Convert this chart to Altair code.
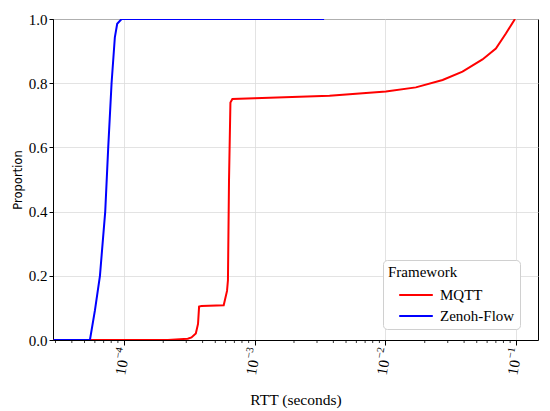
import altair as alt
import pandas as pd

# ---- data ----
FRAMEWORKS = ["MQTT", "Zenoh-Flow"]
COLORS = ["#ff0000", "#0000ff"]

MQTT_RTT = [2.9e-5, 2.17e-4, 3.08e-4, 3.29e-4, 3.55e-4, 3.69e-4, 3.76e-4, 3.92e-4,
            5.80e-4, 6.15e-4, 6.25e-4, 6.37e-4, 6.53e-4, 6.76e-4, 1.0e-3, 3.74e-3,
            1.01e-2, 1.71e-2, 2.74e-2, 3.89e-2, 5.53e-2, 7.0e-2, 8.35e-2, 9.8e-2]
MQTT_PROP = [0.0, 0.0, 0.004, 0.008, 0.02, 0.05, 0.104, 0.106,
             0.108, 0.153, 0.186, 0.50, 0.74, 0.751, 0.753, 0.761,
             0.774, 0.787, 0.810, 0.836, 0.874, 0.908, 0.955, 1.0]

ZENOH_RTT = [2.9e-5, 5.50e-5, 6.01e-5, 6.56e-5, 7.2e-5, 7.59e-5, 8.05e-5, 8.53e-5,
             8.89e-5, 9.6e-5, 3.4e-3]
ZENOH_PROP = [0.0, 0.0, 0.093, 0.2, 0.4, 0.6, 0.8, 0.943, 0.985, 1.0, 1.0]

X_DOMAIN = [2.87e-5, 0.147]
X_MAJOR = [1e-4, 1e-3, 1e-2, 1e-1]
X_BASE = ["10", "10", "10", "10"]
X_EXP = ["\u22124", "\u22123", "\u22122", "\u22121"]
X_MINOR = [m * 10.0 ** e for e in (-5, -4, -3, -2) for m in range(2, 10)]
X_MINOR = [v for v in X_MINOR if X_DOMAIN[0] <= v <= X_DOMAIN[1]]
Y_TICKS = [0.0, 0.2, 0.4, 0.6, 0.8, 1.0]

df = pd.concat([
    pd.DataFrame({"rtt": MQTT_RTT, "prop": MQTT_PROP, "framework": FRAMEWORKS[0]}),
    pd.DataFrame({"rtt": ZENOH_RTT, "prop": ZENOH_PROP, "framework": FRAMEWORKS[1]}),
])
minor_df = pd.DataFrame({"v": X_MINOR})
label_df = pd.DataFrame({"v": X_MAJOR, "base": X_BASE, "exp": X_EXP})

SERIF = "Liberation Serif, Times New Roman, DejaVu Serif, serif"
W, H = 485, 321
LABEL_Y = H + 8       # tick (5) + padding (3)
LABEL_ANGLE = 280

x_enc = alt.X(
    "rtt:Q",
    scale=alt.Scale(type="log", domain=X_DOMAIN, nice=False),
    axis=alt.Axis(
        values=X_MAJOR, labels=False,
        title="RTT (seconds)", titlePadding=47, tickSize=5, grid=True,
    ),
)
y_enc = alt.Y(
    "prop:Q",
    scale=alt.Scale(domain=[0, 1], nice=False),
    axis=alt.Axis(
        values=Y_TICKS, format=".1f", title="Proportion",
        titleFont="DejaVu Sans", titleFontSize=11.5, titlePadding=5,
        tickSize=4, labelPadding=2, grid=True,
    ),
)
color_enc = alt.Color(
    "framework:N",
    scale=alt.Scale(domain=FRAMEWORKS, range=COLORS),
    legend=alt.Legend(
        title="Framework", orient="none", legendX=330, legendY=241,
        padding=5, symbolOffset=15, symbolType="M-1.4,0H1.4", symbolSize=576,
        symbolStrokeWidth=2, labelOffset=11, rowPadding=0, titlePadding=2,
        strokeColor="#d0d0d0", fillColor="white", cornerRadius=4,
        labelExpr="datum.label == 'Zenoh-Flow' ? '\u00a0Zenoh-Flow' : datum.label",
    ),
)

lines = [
    alt.Chart(df).transform_filter(alt.datum.framework == f)
    .mark_line(strokeWidth=2, clip=True)
    .encode(x=x_enc, y=y_enc, color=color_enc)
    for f in FRAMEWORKS
]

minor = alt.Chart(minor_df).mark_rule(color="black", strokeWidth=0.8).encode(
    x=alt.X("v:Q"), y=alt.value(H), y2=alt.value(H + 3)
)

# tick labels drawn as "10" + raised exponent, rotated like the reference
lab_base = alt.Chart(label_df).mark_text(
    font=SERIF, fontSize=15, angle=LABEL_ANGLE, align="right", baseline="middle",
    dx=-12, dy=1, color="black",
).encode(x=alt.X("v:Q"), y=alt.value(LABEL_Y), text="base:N")
lab_exp = alt.Chart(label_df).mark_text(
    font=SERIF, fontSize=10.5, angle=LABEL_ANGLE, align="right", baseline="middle",
    dx=0, dy=-4, color="black",
).encode(x=alt.X("v:Q"), y=alt.value(LABEL_Y), text="exp:N")

chart = alt.layer(minor, *lines, lab_base, lab_exp).properties(
    width=W, height=H,
    padding={"left": 45, "top": 11, "right": 4, "bottom": 70},
    autosize=alt.AutoSizeParams(type="none"),
).configure(
    font=SERIF,
).configure_view(
    stroke="black", strokeWidth=1,
).configure_axis(
    labelFont=SERIF, labelFontSize=15, labelColor="black",
    titleFont=SERIF, titleFontSize=15.5, titleFontWeight="normal", titleColor="black",
    domainColor="black", domainWidth=1, tickColor="black", tickWidth=1,
    gridColor="#dcdcdc", gridWidth=0.8,
).configure_legend(
    titleFont=SERIF, titleFontSize=15, titleFontWeight="normal", titleColor="black",
    labelFont=SERIF, labelFontSize=15, labelColor="black",
)

chart.save("out.html", embed_options={"renderer": "svg", "actions": False})
